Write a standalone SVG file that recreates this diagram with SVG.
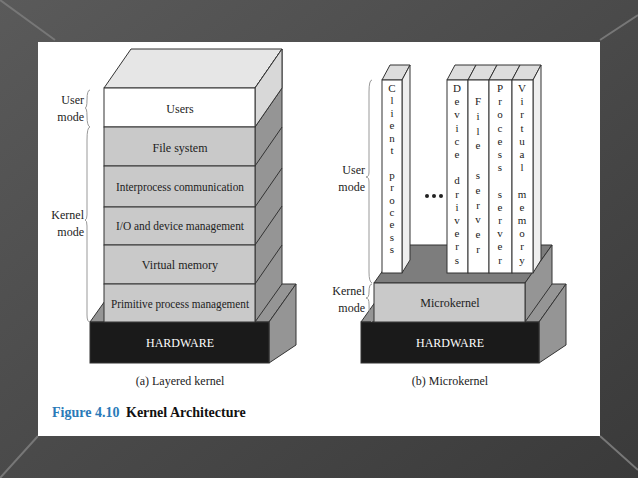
<svg xmlns="http://www.w3.org/2000/svg" width="638" height="478" viewBox="0 0 638 478">
<defs>
<linearGradient id="bg" x1="0" y1="0" x2="1" y2="1"><stop offset="0" stop-color="#5a5a5a"/><stop offset="1" stop-color="#3a3a3a"/></linearGradient>
</defs>
<style>
.t{font-family:"Liberation Serif",serif;font-size:12px;fill:#222;text-anchor:middle}
.l{font-family:"Liberation Serif",serif;font-size:12px;fill:#222;text-anchor:end}
.v{font-family:"Liberation Serif",serif;font-size:11px;fill:#222;text-anchor:middle}
.s{stroke:#333;stroke-width:1}
.g{fill:#c9c9c9}
.d{fill:#959595}
.w{fill:#fff}
.br{fill:none;stroke:#999;stroke-width:1}
</style>
<rect width="638" height="478" fill="url(#bg)"/>
<path d="M0 0 L55 40 M600 40 L638 15 M600 436 L638 470 M38 436 L0 478" stroke="#777" stroke-width="2"/>
<rect x="38" y="42" width="562" height="394" fill="#fff"/>

<g id="layered">
<polygon class="s d" points="90,322 117,284 296,284 269,322"/>
<polygon class="s d" points="269,322 296,284 296,345 269,363"/>
<rect class="s" x="90" y="322" width="179" height="41" fill="#1a1a1a"/>
<text x="180" y="347" class="t" style="fill:#fff">HARDWARE</text>
<polygon class="s" fill="#e6e6e6" points="104,88 131,49 282,49 255,88"/>
<polygon class="s d" points="255,88 282,49 282,284 255,322"/>
<path class="s" d="M255,127 L282,88 M255,166 L282,127 M255,207 L282,168 M255,245 L282,206 M255,284 L282,245"/>
<polygon class="s" fill="#d8d8d8" points="255,88 282,49 282,88 255,127"/>
<rect class="s w" x="104" y="88" width="151" height="39"/>
<rect class="s g" x="104" y="127" width="151" height="39"/>
<rect class="s g" x="104" y="166" width="151" height="41"/>
<rect class="s g" x="104" y="207" width="151" height="38"/>
<rect class="s g" x="104" y="245" width="151" height="39"/>
<rect class="s g" x="104" y="284" width="151" height="38"/>
<text x="180" y="113" class="t">Users</text>
<text x="180" y="152" class="t">File system</text>
<text x="180" y="191" class="t" textLength="128" lengthAdjust="spacingAndGlyphs">Interprocess communication</text>
<text x="180" y="230" class="t" textLength="128" lengthAdjust="spacingAndGlyphs">I/O and device management</text>
<text x="180" y="269" class="t">Virtual memory</text>
<text x="180" y="308" class="t" textLength="138" lengthAdjust="spacingAndGlyphs">Primitive process management</text>
<path class="br" d="M90,90 Q87,90 87,100 Q87,108 85,108 Q87,108 87,116 Q87,126 90,127"/>
<path class="br" d="M90,127 Q87,127 87,140 L87,215 Q87,220 85,220 Q87,220 87,226 L87,315 Q87,322 90,322"/>
<text x="84" y="104" class="l">User</text>
<text x="84" y="121" class="l">mode</text>
<text x="84" y="219" class="l">Kernel</text>
<text x="84" y="236" class="l">mode</text>
</g>

<g id="micro">
<polygon class="s d" points="361,322 388,284 566,284 539,322"/>
<polygon class="s d" points="539,322 566,284 566,345 539,363"/>
<rect class="s" x="361" y="322" width="178" height="41" fill="#1a1a1a"/>
<text x="450" y="347" class="t" style="fill:#fff">HARDWARE</text>
<polygon class="s" fill="#7d7d7d" points="374,283 401,245 552,245 525,283"/>
<polygon class="s d" points="525,283 552,245 552,284 525,322"/>
<rect class="s g" x="374" y="283" width="151" height="39"/>
<text x="450" y="307" class="t">Microkernel</text>
</g>

<g id="client">
<polygon class="s" fill="#ddd" points="382,80 390,65 410,65 402,80"/>
<polygon class="s" fill="#eee" points="402,80 410,65 410,260 402,273"/>
<rect class="s w" x="382" y="80" width="20" height="193"/>
<text class="v" x="392" y="92">C<tspan x="392" dy="12.4">l</tspan><tspan x="392" dy="12.4">i</tspan><tspan x="392" dy="12.4">e</tspan><tspan x="392" dy="12.4">n</tspan><tspan x="392" dy="12.4">t</tspan><tspan x="392" dy="24.8">p</tspan><tspan x="392" dy="12.4">r</tspan><tspan x="392" dy="12.4">o</tspan><tspan x="392" dy="12.4">c</tspan><tspan x="392" dy="12.4">e</tspan><tspan x="392" dy="12.4">s</tspan><tspan x="392" dy="12.4">s</tspan></text>
</g>
<g id="dots"><circle cx="427" cy="196" r="2" fill="#222"/><circle cx="434" cy="196" r="2" fill="#222"/><circle cx="441" cy="196" r="2" fill="#222"/></g>
<g id="servers">
<polygon class="s" fill="#ddd" points="447,80 455,65 476,65 468,80"/>
<polygon class="s" fill="#ddd" points="468,80 476,65 497,65 489,80"/>
<polygon class="s" fill="#ddd" points="489,80 497,65 520,65 512,80"/>
<polygon class="s" fill="#ddd" points="512,80 520,65 541,65 533,80"/>
<polygon class="s" fill="#eee" points="533,80 541,65 541,260 533,273"/>
<rect class="s w" x="447" y="80" width="21" height="193"/>
<rect class="s w" x="468" y="80" width="21" height="193"/>
<rect class="s w" x="489" y="80" width="23" height="193"/>
<rect class="s w" x="512" y="80" width="21" height="193"/>
<text class="v" x="457" y="92">D<tspan x="457" dy="13.2">e</tspan><tspan x="457" dy="13.2">v</tspan><tspan x="457" dy="13.2">i</tspan><tspan x="457" dy="13.2">c</tspan><tspan x="457" dy="13.2">e</tspan><tspan x="457" dy="26.4">d</tspan><tspan x="457" dy="13.2">r</tspan><tspan x="457" dy="13.2">i</tspan><tspan x="457" dy="13.2">v</tspan><tspan x="457" dy="13.2">e</tspan><tspan x="457" dy="13.2">r</tspan><tspan x="457" dy="13.2">s</tspan></text>
<text class="v" x="478" y="105">F<tspan x="478" dy="14.8">i</tspan><tspan x="478" dy="14.8">l</tspan><tspan x="478" dy="14.8">e</tspan><tspan x="478" dy="29.6">s</tspan><tspan x="478" dy="14.8">e</tspan><tspan x="478" dy="14.8">r</tspan><tspan x="478" dy="14.8">v</tspan><tspan x="478" dy="14.8">e</tspan><tspan x="478" dy="14.8">r</tspan></text>
<text class="v" x="500" y="92">P<tspan x="500" dy="13.2">r</tspan><tspan x="500" dy="13.2">o</tspan><tspan x="500" dy="13.2">c</tspan><tspan x="500" dy="13.2">e</tspan><tspan x="500" dy="13.2">s</tspan><tspan x="500" dy="13.2">s</tspan><tspan x="500" dy="26.4">s</tspan><tspan x="500" dy="13.2">e</tspan><tspan x="500" dy="13.2">r</tspan><tspan x="500" dy="13.2">v</tspan><tspan x="500" dy="13.2">e</tspan><tspan x="500" dy="13.2">r</tspan></text>
<text class="v" x="522" y="92">V<tspan x="522" dy="13.2">i</tspan><tspan x="522" dy="13.2">r</tspan><tspan x="522" dy="13.2">t</tspan><tspan x="522" dy="13.2">u</tspan><tspan x="522" dy="13.2">a</tspan><tspan x="522" dy="13.2">l</tspan><tspan x="522" dy="26.4">m</tspan><tspan x="522" dy="13.2">e</tspan><tspan x="522" dy="13.2">m</tspan><tspan x="522" dy="13.2">o</tspan><tspan x="522" dy="13.2">r</tspan><tspan x="522" dy="13.2">y</tspan></text>
</g>
<g id="micro-labels">
<path class="br" d="M372,80 Q369,80 369,92 L369,172 Q369,177 366,177 Q369,177 369,182 L369,272 Q369,282 372,283"/>
<path class="br" d="M372,284 Q369,284 369,292 Q369,298 366,298 Q369,298 369,304 Q369,320 372,322"/>
<text x="365" y="174" class="l">User</text>
<text x="365" y="191" class="l">mode</text>
<text x="365" y="295" class="l">Kernel</text>
<text x="365" y="312" class="l">mode</text>
</g>
<text x="180" y="385" class="t">(a) Layered kernel</text>
<text x="450" y="385" class="t">(b) Microkernel</text>
<text x="52" y="417" style="font-family:'Liberation Serif',serif;font-size:14px;font-weight:bold;fill:#2a7ab8">Figure 4.10</text>
<text x="126" y="417" style="font-family:'Liberation Serif',serif;font-size:14px;font-weight:bold;fill:#111">Kernel Architecture</text>
</svg>
